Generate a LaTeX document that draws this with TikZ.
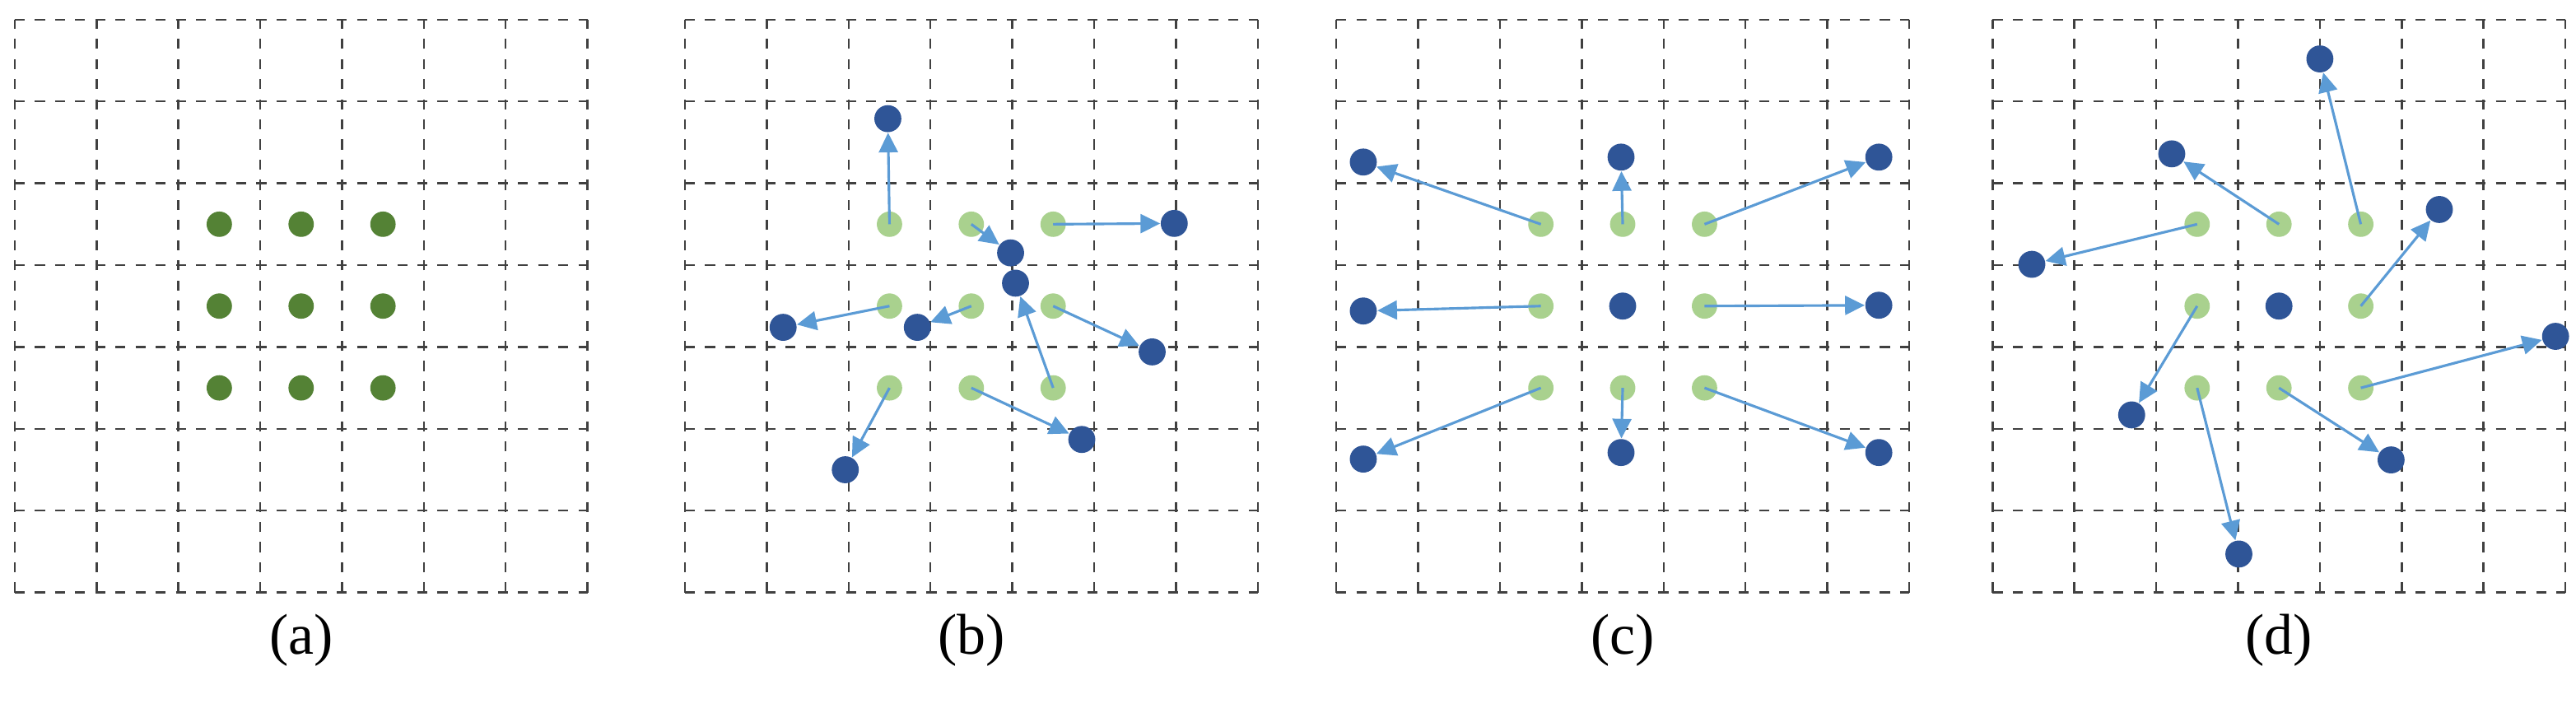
\documentclass[tikz,border=0pt]{standalone}
\usepackage{fontspec}
\setmainfont{Liberation Serif}
\usetikzlibrary{arrows.meta}
\definecolor{dgreen}{HTML}{548235}
\definecolor{lgreen}{HTML}{A9D18E}
\definecolor{dblue}{HTML}{2F5597}
\definecolor{ablue}{HTML}{5B9BD5}
\tikzset{
  gridline/.style={black!75,line width=0.7pt,dash pattern=on 3.5pt off 3.5pt},
  adot/.style={circle,fill=dgreen,inner sep=0pt,minimum size=0.31cm},
  gdot/.style={circle,fill=lgreen,inner sep=0pt,minimum size=0.31cm},
  bdot/.style={circle,fill=dblue,inner sep=0pt,minimum size=0.33cm},
  mv/.style={ablue,line width=0.9pt,-{Triangle[length=2.4mm,width=2.3mm]}},
  lab/.style={font=\fontsize{20}{24}\selectfont,inner sep=0pt}
}
\newcommand\gridpanel[2]{%
  \foreach \i in {0,...,7}{\draw[gridline] (\i,0) -- (\i,7); \draw[gridline] (0,\i) -- (7,\i);}
  \node[lab] (lab#1) at (3.5,-0.58) {#2};}
\newcommand\mvpt[5]{%
  \node[gdot] (#1s) at (#2,{7-#3}) {};
  \node[bdot] (#1e) at (#4,{7-#5}) {};
  \draw[mv] (#1s.center) -- (#1e);}
\begin{document}
\begin{tikzpicture}[x=1cm,y=1cm]
\useasboundingbox (0,-1.47) rectangle (31.48,7.24);
% (a)
\begin{scope}[shift={(0.18,0)}]
\gridpanel{a}{(a)}
\foreach \x in {2.5,3.5,4.5}{\foreach \t in {2.5,3.5,4.5}{\node[adot] (a\x-\t) at (\x,{7-\t}) {};}}
\end{scope}
% (b)
\begin{scope}[shift={(8.37,0)}]
\gridpanel{b}{(b)}
\mvpt{b1}{2.5}{2.5}{2.48}{1.21}
\mvpt{b2}{3.5}{2.5}{3.98}{2.85}
\mvpt{b3}{4.5}{2.5}{5.98}{2.49}
\mvpt{b4}{4.5}{4.5}{4.04}{3.22}
\mvpt{b5}{2.5}{3.5}{1.20}{3.76}
\mvpt{b6}{3.5}{3.5}{2.84}{3.76}
\mvpt{b7}{4.5}{3.5}{5.71}{4.06}
\mvpt{b8}{2.5}{4.5}{1.96}{5.50}
\mvpt{b9}{3.5}{4.5}{4.85}{5.13}
\end{scope}
% (c)
\begin{scope}[shift={(16.33,0)}]
\gridpanel{c}{(c)}
\mvpt{c1}{2.5}{2.5}{0.33}{1.74}
\mvpt{c2}{3.5}{2.5}{3.48}{1.68}
\mvpt{c3}{4.5}{2.5}{6.63}{1.68}
\mvpt{c4}{2.5}{3.5}{0.33}{3.56}
\mvpt{c5}{4.5}{3.5}{6.63}{3.49}
\mvpt{c6}{2.5}{4.5}{0.33}{5.37}
\mvpt{c7}{3.5}{4.5}{3.48}{5.29}
\mvpt{c8}{4.5}{4.5}{6.63}{5.29}
\node[bdot] (cc) at (3.5,3.5) {};
\end{scope}
% (d)
\begin{scope}[shift={(24.35,0)}]
\gridpanel{d}{(d)}
\mvpt{d1}{4.5}{2.5}{4.00}{0.48}
\mvpt{d2}{3.5}{2.5}{2.19}{1.64}
\mvpt{d3}{2.5}{2.5}{0.48}{2.99}
\mvpt{d4}{4.5}{3.5}{5.46}{2.32}
\mvpt{d5}{4.5}{4.5}{6.88}{3.87}
\mvpt{d6}{2.5}{3.5}{1.70}{4.83}
\mvpt{d7}{3.5}{4.5}{4.87}{5.38}
\mvpt{d8}{2.5}{4.5}{3.01}{6.53}
\node[bdot] (dc) at (3.5,3.5) {};
\end{scope}
\end{tikzpicture}
\end{document}
